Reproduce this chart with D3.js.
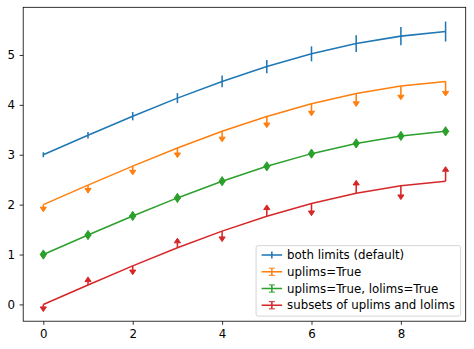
<!DOCTYPE html>
<html><head><meta charset="utf-8">
<script src="https://cdn.jsdelivr.net/npm/d3@7"></script>
<style>body{margin:0;background:#fff} svg{display:block}</style>
</head><body>
<svg id="c" width="474" height="349"></svg>
<script>
// ---- data ----
const xs = [0, 1, 2, 3, 4, 5, 6, 7, 8, 9];
const yBoth   = [3.0000, 3.3911, 3.7725, 4.1350, 4.4695, 4.7678, 5.0225, 5.2275, 5.3776, 5.4692];
const yUp     = [2.0000, 2.3911, 2.7725, 3.1350, 3.4695, 3.7678, 4.0225, 4.2275, 4.3776, 4.4692];
const yUpLo   = [1.0000, 1.3911, 1.7725, 2.1350, 2.4695, 2.7678, 3.0225, 3.2275, 3.3776, 3.4692];
const ySubset = [0.0000, 0.3911, 0.7725, 1.1350, 1.4695, 1.7678, 2.0225, 2.2275, 2.3776, 2.4692];
const yErr    = [0.0500, 0.0667, 0.0833, 0.1000, 0.1167, 0.1333, 0.1500, 0.1667, 0.1833, 0.2000];
const upAll   = [true, true, true, true, true, true, true, true, true, true];
const noneLim = [false, false, false, false, false, false, false, false, false, false];
const subsetUp = [true, false, true, false, true, false, true, false, true, false];
const subsetLo = [false, true, false, true, false, true, false, true, false, true];
const seriesLabels = ["both limits (default)", "uplims=True", "uplims=True, lolims=True", "subsets of uplims and lolims"];
const seriesColors = ["#1f77b4", "#ff7f0e", "#2ca02c", "#d62728"];
const xTicks = [0, 2, 4, 6, 8];
const yTicks = [0, 1, 2, 3, 4, 5];

const series = [
  {y: yBoth,   up: noneLim,  lo: noneLim,  label: seriesLabels[0], color: seriesColors[0], caps: false},
  {y: yUp,     up: upAll,    lo: noneLim,  label: seriesLabels[1], color: seriesColors[1], caps: true},
  {y: yUpLo,   up: upAll,    lo: upAll,    label: seriesLabels[2], color: seriesColors[2], caps: true},
  {y: ySubset, up: subsetUp, lo: subsetLo, label: seriesLabels[3], color: seriesColors[3], caps: true},
];

// ---- layout ----
const svg = d3.select("#c");
const FS = 11.8;
const font = "'DejaVu Sans', sans-serif";

series.forEach(s => {
  s.pts = xs.map((x, i) => {
    const y = s.y[i], e = yErr[i];
    const low = y - (s.lo[i] ? 0 : 1) * e;
    const high = y + (s.up[i] ? 0 : 1) * e;
    return {x, y, low, high, up: s.up[i], lo: s.lo[i]};
  });
});
const allY = series.flatMap(s => s.pts.flatMap(p => [p.low, p.high]));
const yMin = d3.min(allY), yMax = d3.max(allY);
const xMin = d3.min(xs), xMax = d3.max(xs);
const xm = (xMax - xMin) * 0.05, ym = (yMax - yMin) * 0.05;

const L = 23.2, R = 465.7, T = 7.3, B = 321.2;
const x = d3.scaleLinear().domain([xMin - xm, xMax + xm]).range([L, R]);
const y = d3.scaleLinear().domain([yMin - ym, yMax + ym]).range([B, T]);

// axes
const gx = svg.append("g").attr("transform", `translate(0,${B})`)
  .call(d3.axisBottom(x).tickValues(xTicks).tickSize(3.6).tickPadding(5).tickFormat(d3.format("d")));
const gy = svg.append("g").attr("transform", `translate(${L},0)`)
  .call(d3.axisLeft(y).tickValues(yTicks).tickSize(3.6).tickPadding(4.5).tickFormat(d3.format("d")));
[gx, gy].forEach(g => {
  g.select(".domain").remove();
  g.selectAll(".tick line").attr("stroke", "#000").attr("stroke-width", 0.8);
  g.selectAll(".tick text").attr("font-family", font).attr("font-size", FS).attr("fill", "#000");
});

// series
const ms = 6.17;
const hw = 0.5 * ms, hh = 0.75 * ms;
const caretDown = `M${-hw},0L0,${hh}L${hw},0Z`;
const caretUp = `M${-hw},0L0,${-hh}L${hw},0Z`;
const line = d3.line().x(p => x(p.x)).y(p => y(p.y));

series.forEach(s => {
  const g = svg.append("g");
  g.append("path").attr("d", line(s.pts)).attr("fill", "none")
    .attr("stroke", s.color).attr("stroke-width", 1.54);
  g.selectAll("line.bar").data(s.pts.filter(p => p.high !== p.low)).join("line")
    .attr("x1", p => x(p.x)).attr("x2", p => x(p.x))
    .attr("y1", p => y(p.low)).attr("y2", p => y(p.high))
    .attr("stroke", s.color).attr("stroke-width", 1.54);
  g.selectAll("path.cu").data(s.pts.filter(p => p.lo)).join("path")
    .attr("transform", p => `translate(${x(p.x)},${y(p.high)})`)
    .attr("d", caretUp).attr("fill", s.color).attr("stroke", s.color)
    .attr("stroke-width", 1).attr("stroke-linejoin", "miter");
  g.selectAll("path.cd").data(s.pts.filter(p => p.up)).join("path")
    .attr("transform", p => `translate(${x(p.x)},${y(p.low)})`)
    .attr("d", caretDown).attr("fill", s.color).attr("stroke", s.color)
    .attr("stroke-width", 1).attr("stroke-linejoin", "miter");
});

// frame
svg.append("rect").attr("x", L).attr("y", T).attr("width", R - L).attr("height", B - T)
  .attr("fill", "none").attr("stroke", "#000").attr("stroke-width", 0.8);

// legend
const lgW = 204.5, lgH = 70.5;
const lgX = R - 5.1 - lgW, lgY = B - 5.1 - lgH;
const lg = svg.append("g");
lg.append("rect").attr("x", lgX).attr("y", lgY).attr("width", lgW).attr("height", lgH)
  .attr("rx", 2).attr("fill", "#fff").attr("fill-opacity", 0.8)
  .attr("stroke", "#cccccc").attr("stroke-width", 0.8);
const rowY0 = lgY + 9.4, rowDy = 16.75;
const hx0 = lgX + 5.5, hx1 = hx0 + 20.5, hc = (hx0 + hx1) / 2;
series.forEach((s, i) => {
  const ry = rowY0 + i * rowDy;
  lg.append("line").attr("x1", hx0).attr("x2", hx1).attr("y1", ry).attr("y2", ry)
    .attr("stroke", s.color).attr("stroke-width", 1.54);
  lg.append("line").attr("x1", hc).attr("x2", hc).attr("y1", ry - 3.6).attr("y2", ry + 3.6)
    .attr("stroke", s.color).attr("stroke-width", 1.54);
  if (s.caps) {
    [-3.6, 3.6].forEach(d => {
      lg.append("line").attr("x1", hc - 3).attr("x2", hc + 3).attr("y1", ry + d).attr("y2", ry + d)
        .attr("stroke", s.color).attr("stroke-width", 1);
    });
  }
  lg.append("text").attr("x", lgX + 31).attr("y", ry).attr("dy", "0.36em")
    .attr("font-family", font).attr("font-size", FS).attr("fill", "#000").text(s.label);
});
</script>
</body></html>
